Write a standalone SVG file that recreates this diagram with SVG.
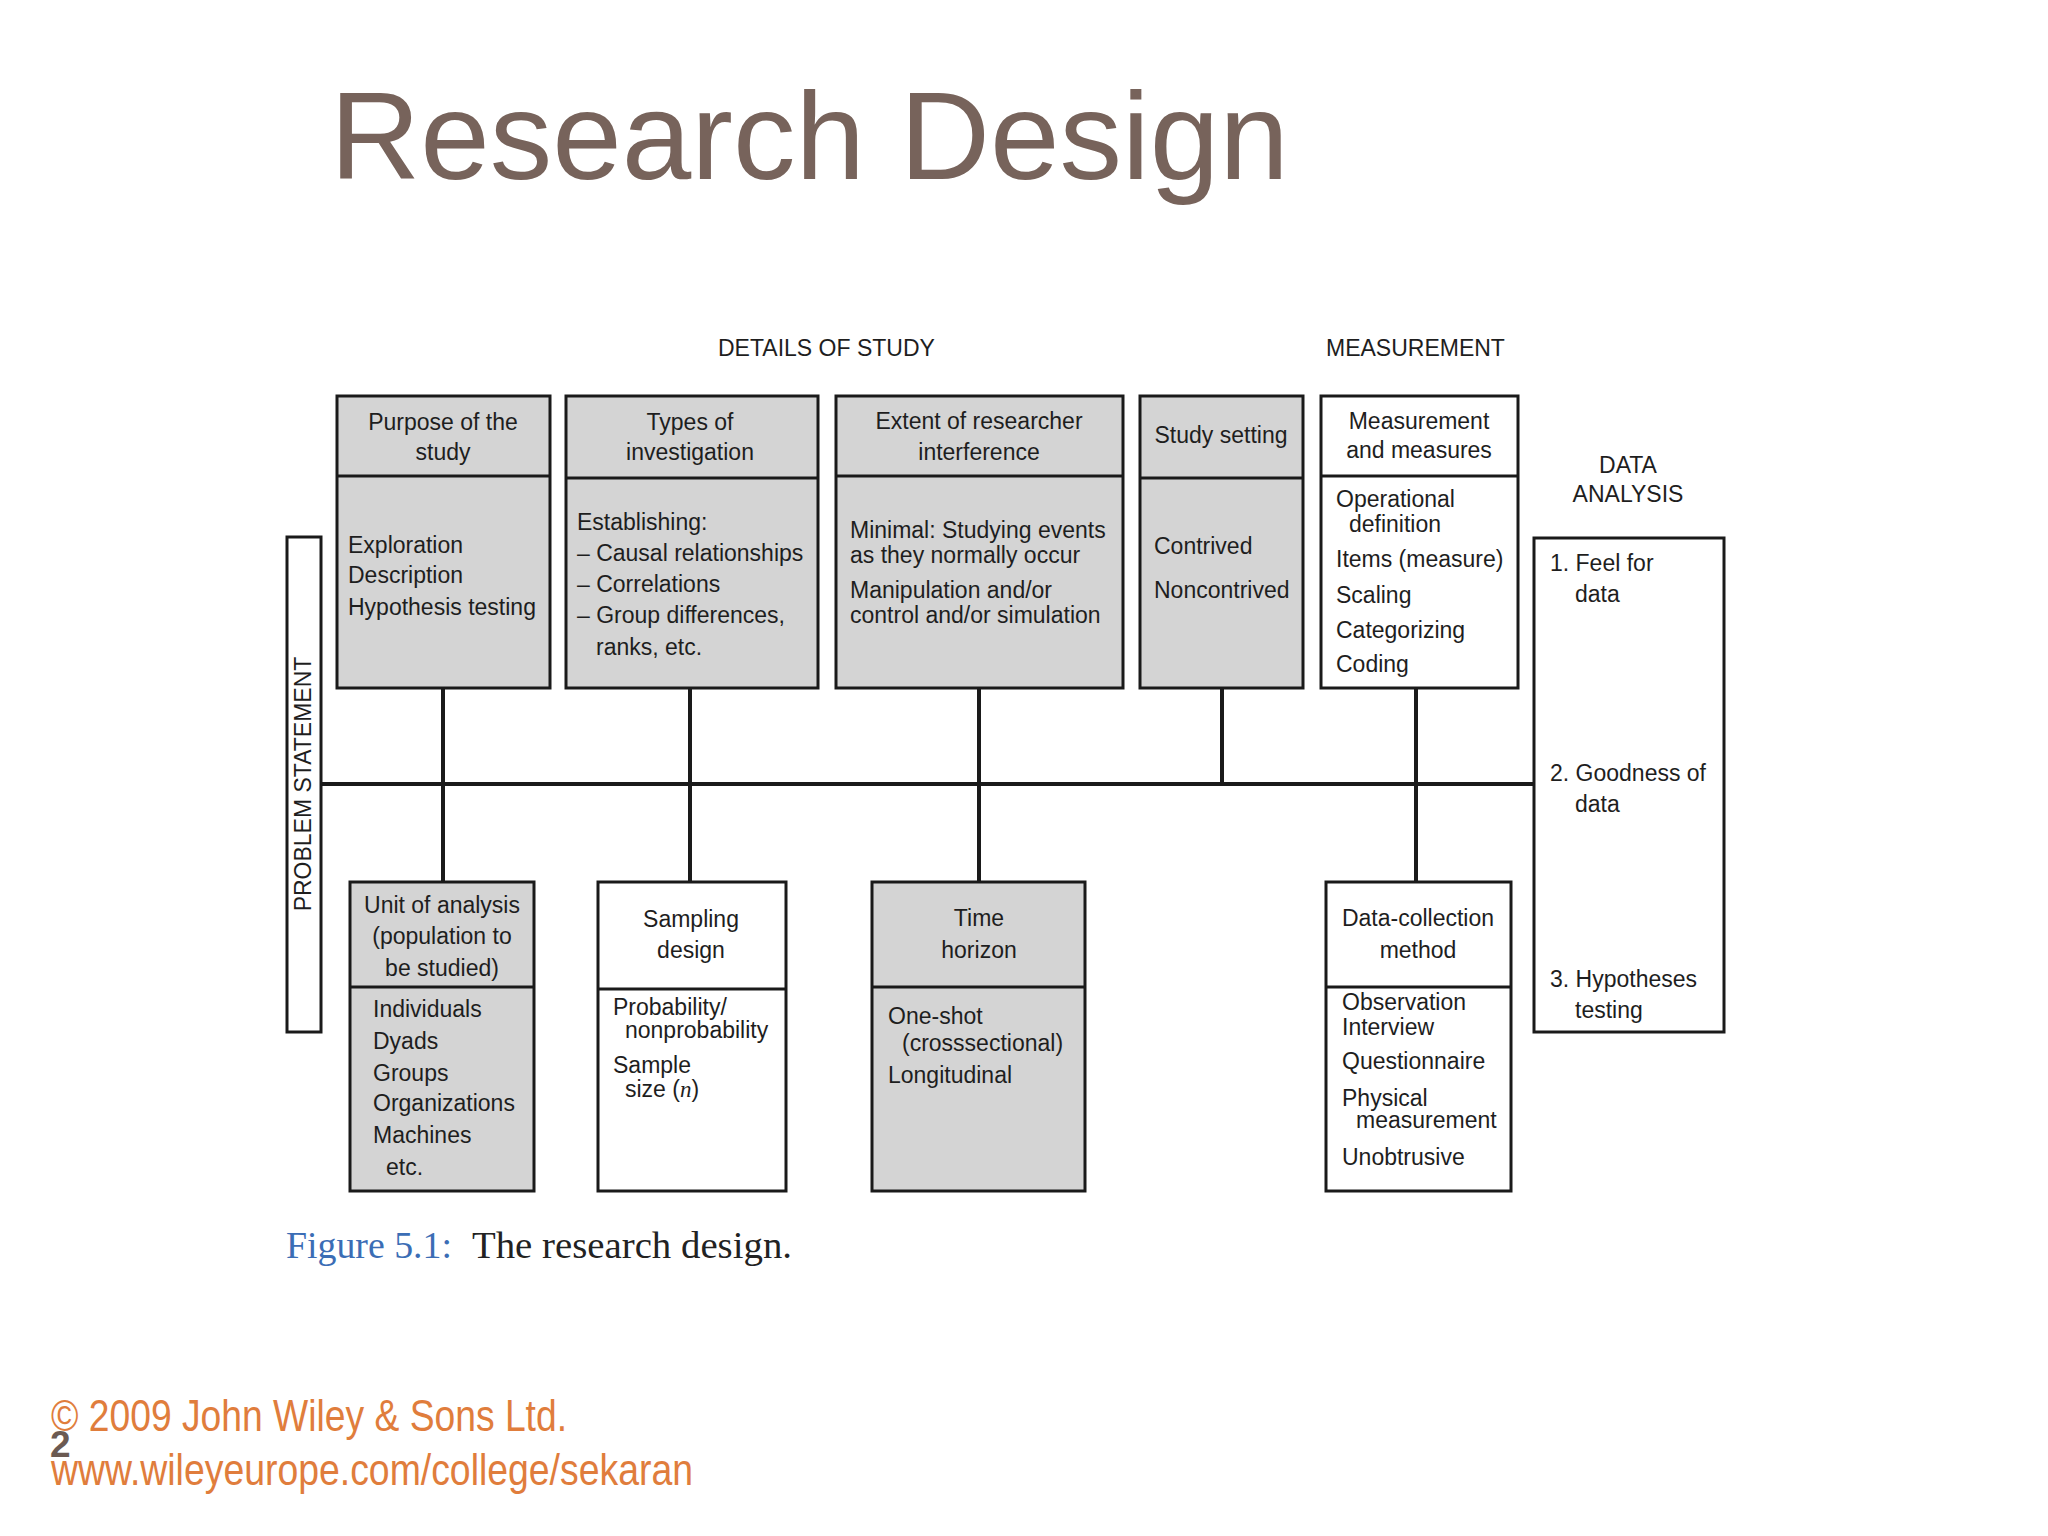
<svg xmlns="http://www.w3.org/2000/svg" width="2048" height="1536" viewBox="0 0 2048 1536">
<style>
.bg{fill:#d4d4d4;stroke:#1a1a1a;stroke-width:3}
.bw{fill:#ffffff;stroke:#1a1a1a;stroke-width:3}
.dv{stroke:#1a1a1a;stroke-width:3}
.t{font-family:"Liberation Sans",Arial,Helvetica,sans-serif;font-size:23px;fill:#1e1e1e}
.l{font-family:"Liberation Sans",Arial,Helvetica,sans-serif;font-size:23px;fill:#1e1e1e}
.c{text-anchor:middle}
.conn{stroke:#1a1a1a;stroke-width:4;fill:none}
</style>
<rect width="2048" height="1536" fill="#ffffff"/>
<text x="330" y="179" font-family="'Liberation Sans',Arial,sans-serif" font-size="125" fill="#77635b">Research Design</text>
<g id="labels">
<text class="l" x="718" y="356">DETAILS OF STUDY</text>
<text class="l" x="1326" y="356">MEASUREMENT</text>
<text class="l c" x="1628" y="473">DATA</text>
<text class="l c" x="1628" y="502">ANALYSIS</text>
</g>
<g id="connectors">
<line class="conn" x1="321" y1="784" x2="1534" y2="784"/>
<line class="conn" x1="443" y1="688" x2="443" y2="882"/>
<line class="conn" x1="690" y1="688" x2="690" y2="882"/>
<line class="conn" x1="979" y1="688" x2="979" y2="882"/>
<line class="conn" x1="1222" y1="688" x2="1222" y2="784"/>
<line class="conn" x1="1416" y1="688" x2="1416" y2="882"/>
</g>
<g id="problem-statement">
<rect class="bw" x="287" y="537" width="34" height="495"/>
<text class="t c" transform="translate(311 784) rotate(-90)">PROBLEM STATEMENT</text>
</g>
<g id="purpose">
<rect class="bg" x="337" y="396" width="213" height="292"/>
<line class="dv" x1="337" y1="476" x2="550" y2="476"/>
<text class="t c" x="443" y="430">Purpose of the</text>
<text class="t c" x="443" y="460">study</text>
<text class="t" x="348" y="553">Exploration</text>
<text class="t" x="348" y="583">Description</text>
<text class="t" x="348" y="615">Hypothesis testing</text>
</g>
<g id="types">
<rect class="bg" x="566" y="396" width="252" height="292"/>
<line class="dv" x1="566" y1="478" x2="818" y2="478"/>
<text class="t c" x="690" y="430">Types of</text>
<text class="t c" x="690" y="460">investigation</text>
<text class="t" x="577" y="530">Establishing:</text>
<text class="t" x="577" y="561">– Causal relationships</text>
<text class="t" x="577" y="592">– Correlations</text>
<text class="t" x="577" y="623">– Group differences,</text>
<text class="t" x="596" y="655">ranks, etc.</text>
</g>
<g id="extent">
<rect class="bg" x="836" y="396" width="287" height="292"/>
<line class="dv" x1="836" y1="476" x2="1123" y2="476"/>
<text class="t c" x="979" y="429">Extent of researcher</text>
<text class="t c" x="979" y="460">interference</text>
<text class="t" x="850" y="538">Minimal: Studying events</text>
<text class="t" x="850" y="563">as they normally occur</text>
<text class="t" x="850" y="598">Manipulation and/or</text>
<text class="t" x="850" y="623">control and/or simulation</text>
</g>
<g id="study-setting">
<rect class="bg" x="1140" y="396" width="163" height="292"/>
<line class="dv" x1="1140" y1="478" x2="1303" y2="478"/>
<text class="t c" x="1221" y="443">Study setting</text>
<text class="t" x="1154" y="554">Contrived</text>
<text class="t" x="1154" y="598">Noncontrived</text>
</g>
<g id="measurement">
<rect class="bw" x="1321" y="396" width="197" height="292"/>
<line class="dv" x1="1321" y1="476" x2="1518" y2="476"/>
<text class="t c" x="1419" y="429">Measurement</text>
<text class="t c" x="1419" y="458">and measures</text>
<text class="t" x="1336" y="507">Operational</text>
<text class="t" x="1349" y="532">definition</text>
<text class="t" x="1336" y="567">Items (measure)</text>
<text class="t" x="1336" y="603">Scaling</text>
<text class="t" x="1336" y="638">Categorizing</text>
<text class="t" x="1336" y="672">Coding</text>
</g>
<g id="data-analysis">
<rect class="bw" x="1534" y="538" width="190" height="494"/>
<text class="t" x="1550" y="571">1. Feel for</text>
<text class="t" x="1575" y="602">data</text>
<text class="t" x="1550" y="781">2. Goodness of</text>
<text class="t" x="1575" y="812">data</text>
<text class="t" x="1550" y="987">3. Hypotheses</text>
<text class="t" x="1575" y="1018">testing</text>
</g>
<g id="unit-of-analysis">
<rect class="bg" x="350" y="882" width="184" height="309"/>
<line class="dv" x1="350" y1="987" x2="534" y2="987"/>
<text class="t c" x="442" y="913">Unit of analysis</text>
<text class="t c" x="442" y="944">(population to</text>
<text class="t c" x="442" y="976">be studied)</text>
<text class="t" x="373" y="1017">Individuals</text>
<text class="t" x="373" y="1049">Dyads</text>
<text class="t" x="373" y="1081">Groups</text>
<text class="t" x="373" y="1111">Organizations</text>
<text class="t" x="373" y="1143">Machines</text>
<text class="t" x="386" y="1175">etc.</text>
</g>
<g id="sampling-design">
<rect class="bw" x="598" y="882" width="188" height="309"/>
<line class="dv" x1="598" y1="989" x2="786" y2="989"/>
<text class="t c" x="691" y="927">Sampling</text>
<text class="t c" x="691" y="958">design</text>
<text class="t" x="613" y="1015">Probability/</text>
<text class="t" x="625" y="1038">nonprobability</text>
<text class="t" x="613" y="1073">Sample</text>
<text class="t" x="625" y="1097">size (<tspan font-family="'Liberation Serif',serif" font-style="italic">n</tspan>)</text>
</g>
<g id="time-horizon">
<rect class="bg" x="872" y="882" width="213" height="309"/>
<line class="dv" x1="872" y1="987" x2="1085" y2="987"/>
<text class="t c" x="979" y="926">Time</text>
<text class="t c" x="979" y="958">horizon</text>
<text class="t" x="888" y="1024">One-shot</text>
<text class="t" x="902" y="1051">(crosssectional)</text>
<text class="t" x="888" y="1083">Longitudinal</text>
</g>
<g id="data-collection">
<rect class="bw" x="1326" y="882" width="185" height="309"/>
<line class="dv" x1="1326" y1="987" x2="1511" y2="987"/>
<text class="t c" x="1418" y="926">Data-collection</text>
<text class="t c" x="1418" y="958">method</text>
<text class="t" x="1342" y="1010">Observation</text>
<text class="t" x="1342" y="1035">Interview</text>
<text class="t" x="1342" y="1069">Questionnaire</text>
<text class="t" x="1342" y="1106">Physical</text>
<text class="t" x="1356" y="1128">measurement</text>
<text class="t" x="1342" y="1165">Unobtrusive</text>
</g>
<g id="caption">
<text x="286" y="1258" font-family="'Liberation Serif','Times New Roman',serif" font-size="37" fill="#3b6db5" textLength="166" lengthAdjust="spacingAndGlyphs">Figure 5.1:</text>
<text x="472" y="1258" font-family="'Liberation Serif','Times New Roman',serif" font-size="37" fill="#222222" textLength="320" lengthAdjust="spacingAndGlyphs">The research design.</text>
</g>
<g id="footer">
<text x="51" y="1431" font-family="'Liberation Sans',Arial,sans-serif" font-size="44" fill="#e07d3c" textLength="516" lengthAdjust="spacingAndGlyphs">© 2009 John Wiley &amp; Sons Ltd.</text>
<text x="51" y="1485" font-family="'Liberation Sans',Arial,sans-serif" font-size="44" fill="#e07d3c" textLength="642" lengthAdjust="spacingAndGlyphs">www.wileyeurope.com/college/sekaran</text>
<text x="50" y="1457" font-family="'Liberation Sans',Arial,sans-serif" font-size="37" font-weight="bold" fill="#6b5a52">2</text>
</g>
</svg>
